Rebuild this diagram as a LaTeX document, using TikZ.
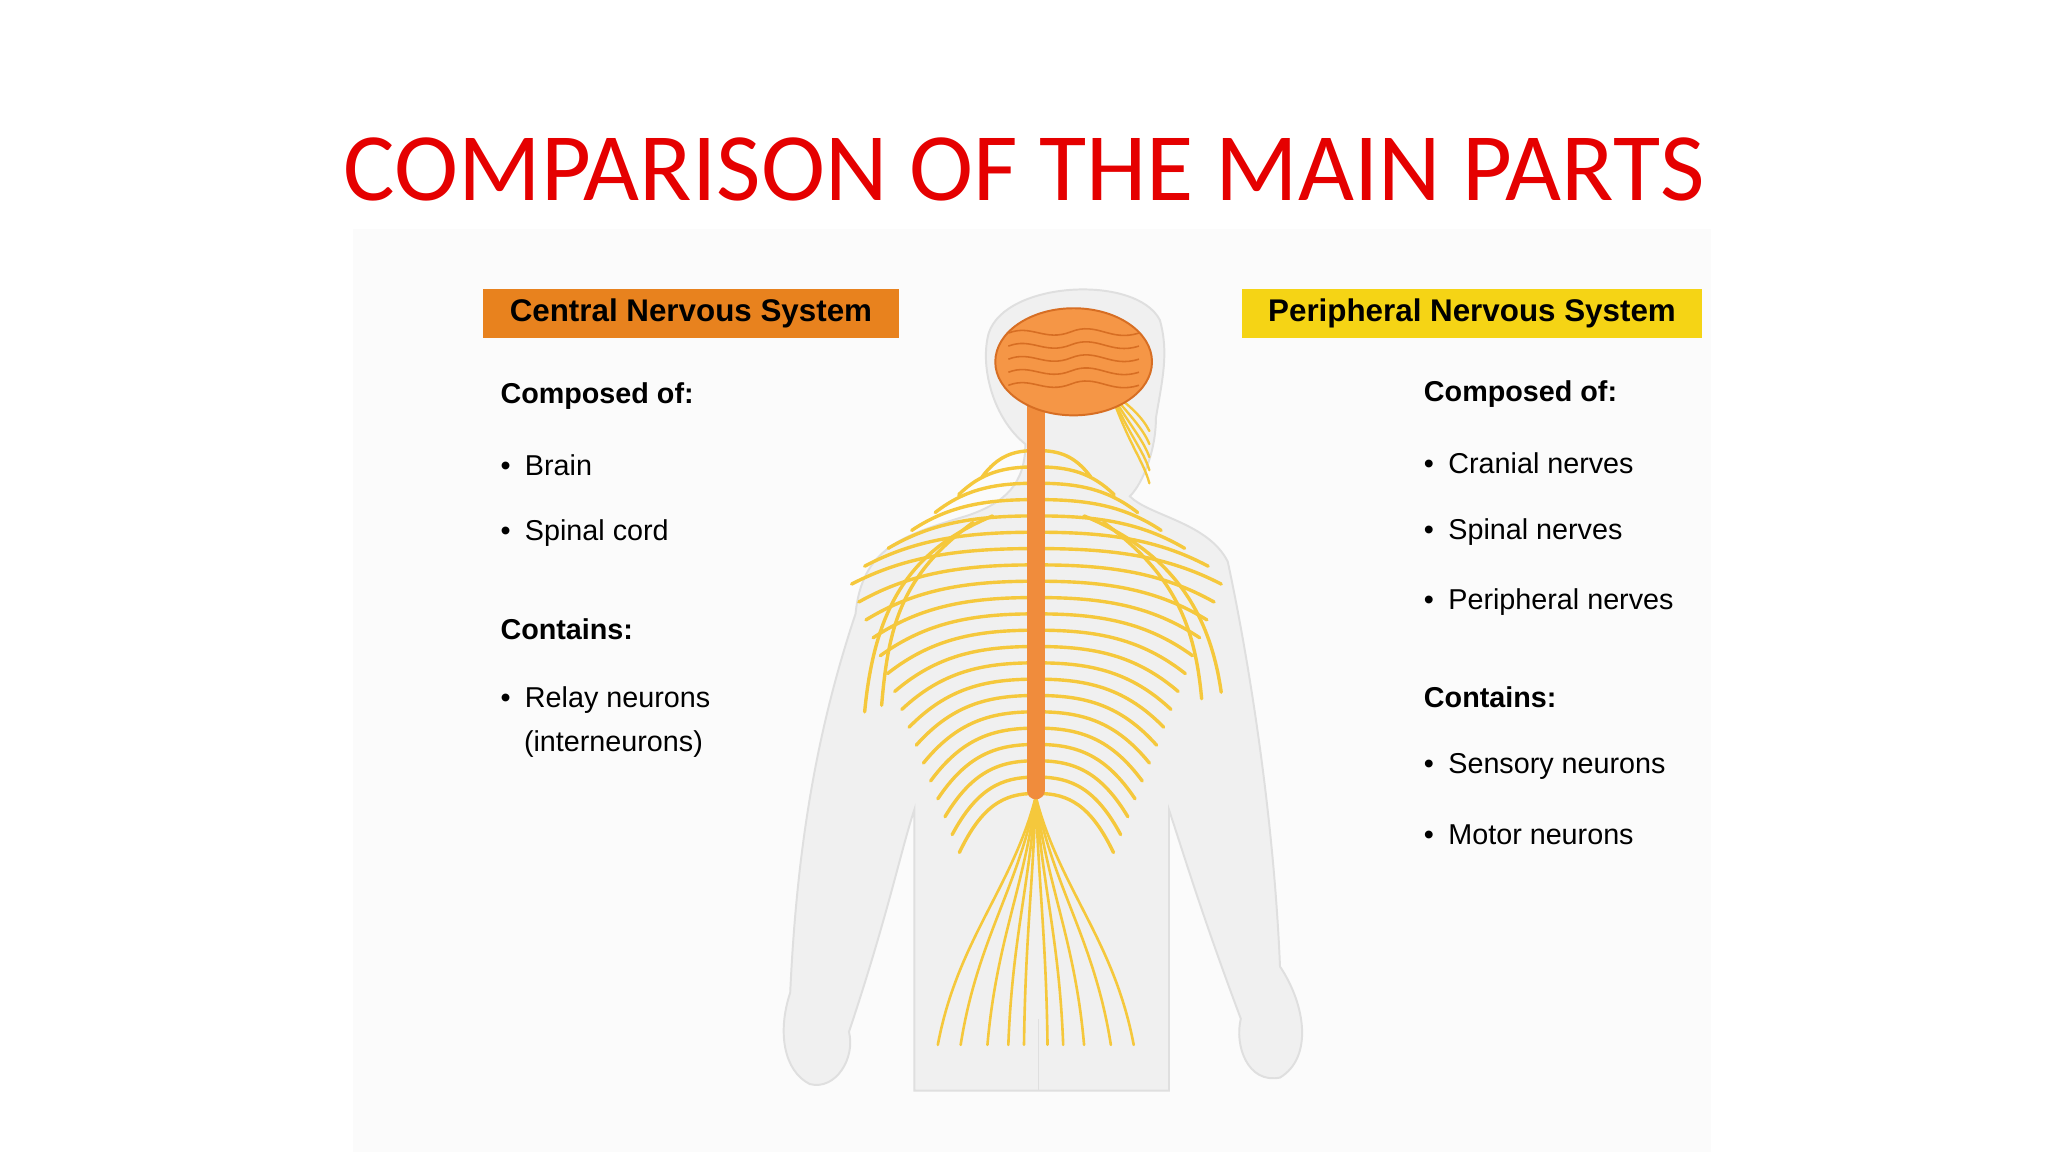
\documentclass[tikz,border=0pt]{standalone}
\usepackage{fontspec}
\setmainfont{Liberation Sans}
\newfontfamily\titlefont{Carlito}
\definecolor{cnsc}{RGB}{232,130,30}
\definecolor{pnsc}{RGB}{245,212,21}
\definecolor{cordc}{RGB}{240,140,60}
\definecolor{brainc}{RGB}{245,150,70}
\definecolor{brainl}{RGB}{215,110,35}
\definecolor{nervec}{RGB}{245,200,60}
\begin{document}
\begin{tikzpicture}[x=1pt,y=-1pt,
  hdr/.style={anchor=center,font=\bfseries\fontsize{24}{28}\selectfont,minimum height=37pt,inner sep=0pt},
  txt/.style={anchor=west,font=\fontsize{22}{26}\selectfont,inner sep=0pt},
  bold/.style={txt,font=\bfseries\fontsize{22}{26}\selectfont},
  nerve/.style={draw=nervec,line width=2.6pt,line cap=round},
  skin/.style={fill=gray!12,draw=gray!25,line width=1.5pt}]
\useasboundingbox (0,0) rectangle (1568,882);
\fill[white] (0,0) rectangle (1568,882);
\fill[gray!3] (270,175) rectangle (1310,882);
\node[font=\titlefont\fontsize{74}{84}\selectfont,text=red!90!black] (title) at (784,130) {COMPARISON OF THE MAIN PARTS};
% headers
\node[hdr,fill=cnsc,minimum width=318pt] (cns) at (529,240) {Central Nervous System};
\node[hdr,fill=pnsc,minimum width=352pt] (pns) at (1127,240) {Peripheral Nervous System};
% left text
\node[bold] (lc) at (383,303) {Composed of:};
\node[txt] (l1) at (383,356) {•\hspace{11pt}Brain};
\node[txt] (l2) at (383,408) {•\hspace{11pt}Spinal cord};
\node[bold] (lct) at (383,482) {Contains:};
\node[txt] (l3) at (383,536) {•\hspace{11pt}Relay neurons};
\node[txt] (l4) at (401,570) {(interneurons)};
% right text
\node[bold] (rc) at (1090,302) {Composed of:};
\node[txt] (r1) at (1090,355) {•\hspace{11pt}Cranial nerves};
\node[txt] (r2) at (1090,407) {•\hspace{11pt}Spinal nerves};
\node[txt] (r3) at (1090,461) {•\hspace{11pt}Peripheral nerves};
\node[bold] (rct) at (1090,534) {Contains:};
\node[txt] (r4) at (1090,587) {•\hspace{11pt}Sensory neurons};
\node[txt] (r5) at (1090,639) {•\hspace{11pt}Motor neurons};
% body silhouette
\path[skin] (700,835) -- (700,620) .. controls (690,650) and (680,700) .. (650,790)
 .. controls (655,810) and (640,835) .. (620,830) .. controls (600,820) and (595,790) .. (605,760)
 .. controls (610,650) and (625,560) .. (655,470) .. controls (660,420) and (690,410) .. (740,395)
 .. controls (770,385) and (785,370) .. (785,340) .. controls (760,320) and (750,280) .. (757,255)
 .. controls (770,215) and (870,210) .. (888,245) .. controls (895,270) and (890,290) .. (885,320)
 .. controls (885,345) and (875,370) .. (865,380) .. controls (880,395) and (925,400) .. (940,430)
 .. controls (955,500) and (975,620) .. (980,740) .. controls (1000,770) and (1005,810) .. (980,825)
 .. controls (955,830) and (945,800) .. (950,780) .. controls (920,700) and (905,650) .. (895,620)
 -- (895,835) -- cycle;
\draw[gray!25,line width=1pt] (795,835) -- (795,780);
% nerves
\foreach \i in {0,...,21}{
  \pgfmathsetmacro{\yy}{345+\i*12.5}
  \pgfmathsetmacro{\w}{ (\i<6) ? 40+\i*18 : 140-(\i-6)*5.5 }
  \pgfmathsetmacro{\d}{20+\i*1.2}
  \draw[nerve] (792,\yy) .. controls (792-\w*0.4,\yy) and (792-\w*0.7,\yy+\d*0.2) .. (792-\w,\yy+\d);
  \draw[nerve] (795,\yy) .. controls (795+\w*0.4,\yy) and (795+\w*0.7,\yy+\d*0.2) .. (795+\w,\yy+\d);
}
\draw[nerve] (760,395) .. controls (700,420) and (670,460) .. (662,545);
\draw[nerve] (745,400) .. controls (690,440) and (680,480) .. (675,540);
\draw[nerve] (830,395) .. controls (890,420) and (925,460) .. (935,530);
\draw[nerve] (845,400) .. controls (900,440) and (915,480) .. (920,535);
\foreach \dx/\ex in {-60/-45,-45/-35,-30/-22,-18/-12,-8/-5,8/5,18/12,30/22,45/35,60/45}{
  \draw[nerve,line width=2pt] (793,610) .. controls (793+\dx*0.3,680) and (793+\dx,720) .. (793+\ex+\dx*0.5,800);
}
% cranial nerves
\foreach \a in {0,...,4}{
  \draw[nerve,line width=1.8pt] (850,300) .. controls (865,310+\a*8) and (875,320+\a*8) .. (880,330+\a*10);
}
% brain and cord
\draw[line width=14pt,line cap=round,draw=cordc] (793,300) -- (793,605);
\fill[brainc,draw=brainl,line width=1.5pt] (822,277) ellipse (60pt and 41pt);
\foreach \k in {0,...,4}{
  \draw[brainl,line width=1.2pt] (772,255+\k*10) .. controls (790,248+\k*10) and (800,262+\k*10) .. (820,254+\k*10)
    .. controls (840,246+\k*10) and (850,262+\k*10) .. (872,255+\k*10);
}
\end{tikzpicture}
\end{document}
